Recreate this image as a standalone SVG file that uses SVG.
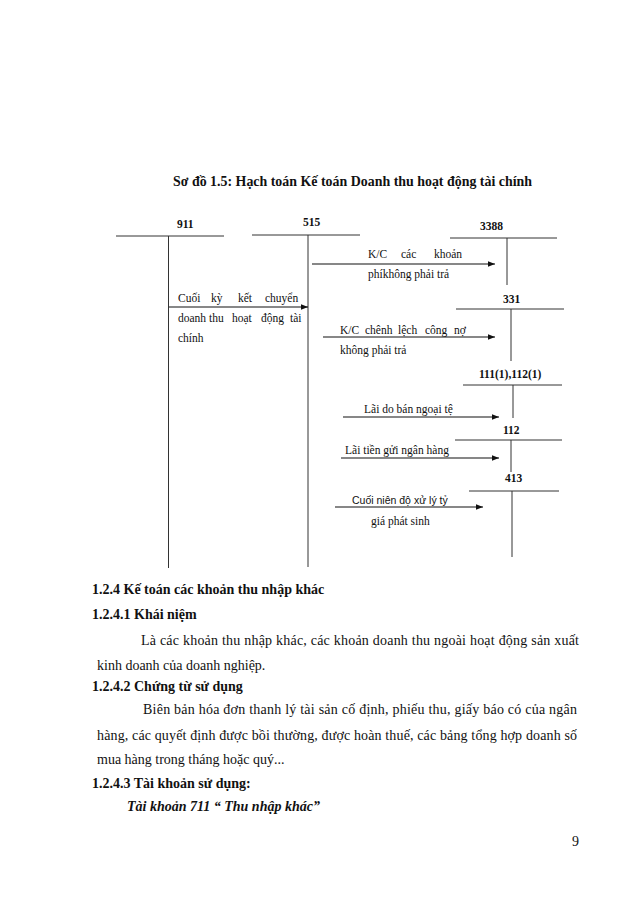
<svg xmlns="http://www.w3.org/2000/svg" width="638" height="902" viewBox="0 0 638 902">
<defs>
<marker id="ah" viewBox="0 0 10 10" refX="10" refY="5" markerWidth="7" markerHeight="7" markerUnits="userSpaceOnUse" orient="auto">
<path d="M0,1 L10,5 L0,9 z" fill="#111"/>
</marker>
</defs>
<style>
.ln{stroke:#333;stroke-width:1;fill:none}
.ar{stroke:#111;stroke-width:1.2;fill:none;marker-end:url(#ah)}
.t{font-family:"Liberation Serif","Times New Roman",serif;fill:#111}
.lb{font-size:11.5px}
.acc{font-size:11.5px;font-weight:bold}
.s{font-family:"Liberation Sans",Arial,sans-serif;font-size:10.5px;fill:#111}
.body{font-size:14px}
.h{font-size:14px;font-weight:bold}
</style>
<rect width="638" height="902" fill="#fff"/>
<text class="t" x="173" y="186" font-size="14" font-weight="bold" textLength="359" lengthAdjust="spacingAndGlyphs">Sơ đồ 1.5: Hạch toán Kế toán Doanh thu hoạt động tài chính</text>

<g id="acc911">
<text class="t acc" x="177" y="228">911</text>
<line class="ln" x1="116" y1="236" x2="224" y2="236"/>
<line class="ln" x1="168.5" y1="236" x2="168.5" y2="568"/>
</g>
<g id="acc515">
<text class="t acc" x="303" y="226">515</text>
<line class="ln" x1="252" y1="235" x2="360" y2="235"/>
<line class="ln" x1="308" y1="235" x2="308" y2="567"/>
</g>
<g id="acc3388">
<text class="t acc" x="480" y="230">3388</text>
<line class="ln" x1="450" y1="238" x2="557" y2="238"/>
<line class="ln" x1="507" y1="238" x2="507" y2="285"/>
</g>
<g id="acc331">
<text class="t acc" x="503" y="303">331</text>
<line class="ln" x1="456" y1="309" x2="564" y2="309"/>
<line class="ln" x1="511" y1="309" x2="511" y2="361"/>
</g>
<g id="acc111">
<text class="t acc" x="479" y="378">111(1),112(1)</text>
<line class="ln" x1="463" y1="385" x2="562" y2="385"/>
<line class="ln" x1="513" y1="385" x2="513" y2="418"/>
</g>
<g id="acc112">
<text class="t acc" x="503" y="434">112</text>
<line class="ln" x1="455" y1="440" x2="562" y2="440"/>
<line class="ln" x1="511" y1="440" x2="511" y2="472"/>
</g>
<g id="acc413">
<text class="t acc" x="505" y="482">413</text>
<line class="ln" x1="469" y1="491" x2="559" y2="491"/>
<line class="ln" x1="512" y1="491" x2="512" y2="557"/>
</g>

<g id="connectors">
<line class="ar" x1="169" y1="307" x2="308" y2="307"/>
<line class="ar" x1="312" y1="264" x2="495" y2="264"/>
<line class="ar" x1="323" y1="337" x2="495" y2="337"/>
<line class="ar" x1="343" y1="417" x2="499" y2="417"/>
<line class="ar" x1="341" y1="458" x2="499" y2="458"/>
<line class="ar" x1="335" y1="507" x2="483" y2="507"/>
</g>

<g id="labels">
<text class="t lb" y="302"><tspan x="178">Cuối</tspan><tspan x="211">kỳ</tspan><tspan x="238">kết</tspan><tspan x="265">chuyển</tspan></text>
<text class="t lb" y="322"><tspan x="178">doanh</tspan><tspan x="209">thu</tspan><tspan x="232">hoạt</tspan><tspan x="261">động</tspan><tspan x="290">tài</tspan></text>
<text class="t lb" x="178" y="342">chính</text>
<text class="t lb" y="258"><tspan x="368">K/C</tspan><tspan x="401">các</tspan><tspan x="434">khoản</tspan></text>
<text class="t lb" x="368" y="278">phíkhông phải trả</text>
<text class="t lb" y="334"><tspan x="340">K/C</tspan><tspan x="365">chênh</tspan><tspan x="398">lệch</tspan><tspan x="425">công</tspan><tspan x="454">nợ</tspan></text>
<text class="t lb" x="340" y="354">không phải trả</text>
<text class="t lb" x="364" y="413">Lãi do bán ngoại tệ</text>
<text class="t lb" x="345" y="454">Lãi tiền gửi ngân hàng</text>
<text class="s" x="352" y="504">Cuối niên độ xử lý tỷ</text>
<text class="t lb" x="371" y="525">giá phát sinh</text>
</g>

<g id="text">
<text class="t h" x="92" y="594">1.2.4 Kế toán các khoản thu nhập khác</text>
<text class="t h" x="92" y="619">1.2.4.1 Khái niệm</text>
<text class="t body" x="141" y="645" textLength="438" lengthAdjust="spacing">Là các khoản thu nhập khác, các khoản doanh thu ngoài hoạt động sản xuất</text>
<text class="t body" x="97" y="670">kinh doanh của doanh nghiệp.</text>
<text class="t h" x="92" y="691">1.2.4.2 Chứng từ sử dụng</text>
<text class="t body" x="143" y="714" textLength="434" lengthAdjust="spacing">Biên bản  hóa đơn thanh lý tài sản cố định, phiếu thu, giấy báo có của ngân</text>
<text class="t body" x="97" y="740" textLength="480" lengthAdjust="spacing">hàng, các quyết định được bồi thường, được hoàn thuế, các bảng tổng hợp doanh số</text>
<text class="t body" x="97" y="764">mua hàng trong tháng hoặc quý...</text>
<text class="t h" x="92" y="788">1.2.4.3 Tài khoản sử dụng:</text>
<text class="t h" x="127" y="811" font-style="italic">Tài khoản 711 “ Thu nhập khác”</text>
<text class="t body" x="572" y="846">9</text>
</g>
</svg>
